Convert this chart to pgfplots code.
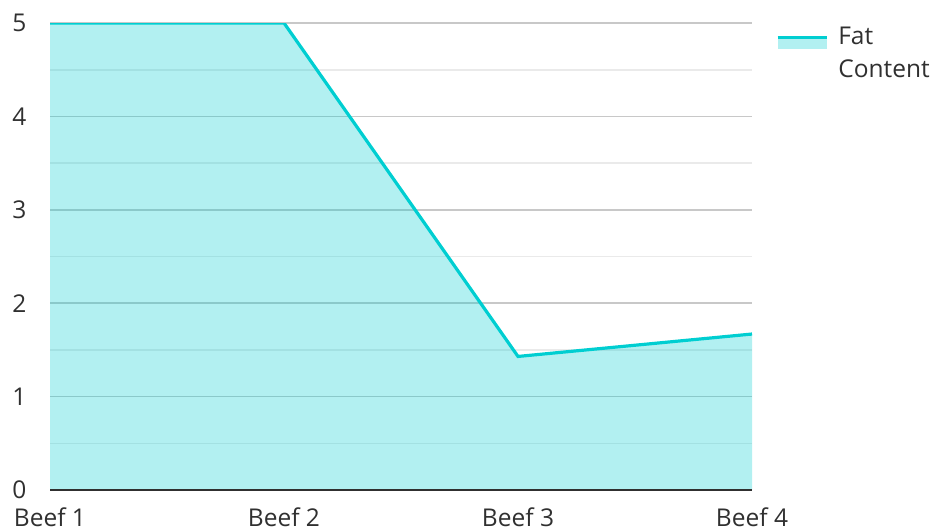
\documentclass[border=0pt]{standalone}
\usepackage{fontspec}
\setmainfont{Open Sans}
\usepackage{pgfplots}
\pgfplotsset{compat=1.18}
\definecolor{lc}{RGB}{0,206,209}
\definecolor{txt}{RGB}{48,48,48}
\definecolor{majg}{RGB}{200,200,200}
\definecolor{ming}{RGB}{234,234,234}
\begin{document}
\begin{tikzpicture}
\begin{axis}[
  at={(0,0)}, anchor=south west,
  scale only axis,
  width=702pt, height=467pt,
  xmin=0, xmax=3, ymin=0, ymax=5,
  xtick={0,1,2,3},
  xticklabels={Beef 1,Beef 2,Beef 3,Beef 4},
  ytick={0,1,2,3,4,5},
  minor y tick num=1,
  ymajorgrids, yminorgrids,
  major grid style={draw=majg, line width=1.6pt},
  minor grid style={draw=ming, line width=1.6pt},
  major tick length=0pt, minor tick length=0pt,
  axis line style={draw=none},
  /pgf/number format/assume math mode=true,
  tick label style={font=\fontsize{24.5}{29}\selectfont, text=txt},
  yticklabel style={anchor=east, xshift=-20pt},
  xticklabel style={anchor=north, yshift=-14pt},
  legend style={at={(1,1)}, anchor=north west, xshift=21pt, yshift=0pt,
    draw=none, fill=none, font=\fontsize{24.5}{33}\selectfont, text=txt,
    cells={align=left, anchor=west}},
  legend image code/.code={
    \path[fill=lc, fill opacity=0.3, draw=none] (0pt,4pt) rectangle (49pt,16pt);
    \path[draw=lc, line width=3pt] (0pt,16pt) -- (49pt,16pt);
    \path (57pt,10pt);
  },
]
\addplot[fill=lc, fill opacity=0.3, draw=none, forget plot]
  coordinates {(0,5) (1,5) (2,1.43) (3,1.67)} \closedcycle;
\addplot[lc, line width=3.2pt]
  coordinates {(0,5) (1,5) (2,1.43) (3,1.67)};
\addlegendentry{Fat\\Content}
\draw[txt, line width=2.2pt] (axis cs:0,0) -- (axis cs:3,0);
\end{axis}
\pgfresetboundingbox
\path[use as bounding box] (-50pt,-41pt) rectangle (883pt,490pt);
\end{tikzpicture}
\end{document}
